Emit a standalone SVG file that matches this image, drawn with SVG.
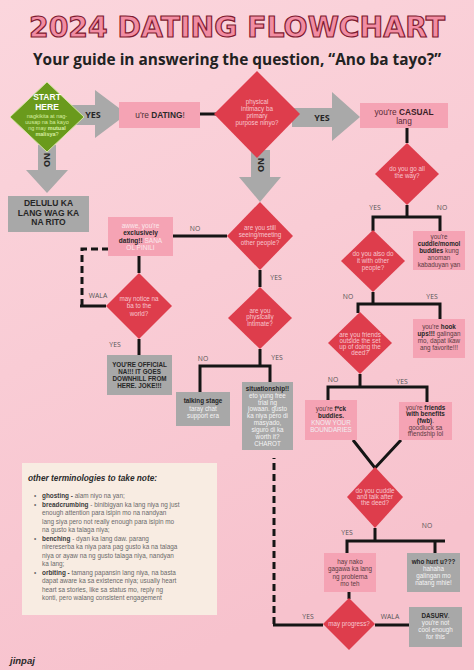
<svg xmlns="http://www.w3.org/2000/svg" width="474" height="670" viewBox="0 0 474 670">
<defs>
<linearGradient id="bg" x1="0" y1="0" x2="0.35" y2="1">
<stop offset="0" stop-color="#fbd6dd"/>
<stop offset="1" stop-color="#f7c2cd"/>
</linearGradient>
</defs>
<style>
.ln{stroke:#151515;stroke-width:3;fill:none}
.dash{stroke:#151515;stroke-width:3;fill:none;stroke-dasharray:7 4}
.arr{fill:#a9a9a9}
.dm{fill:#de3d4c}
.pk{fill:#f5a3b4}
.gy{fill:#a8a8a8}
.t{font-family:"Liberation Sans",Arial,sans-serif;text-anchor:middle}
.dt{fill:#f8c6ce;font-size:6.3px}
.pt{fill:#5a3a42;font-size:6.3px}
.gt{fill:#f4f4f4;font-size:6.3px}
.lt{fill:#fbe8ec}
.dk{fill:#262626}
.lbl{font-family:"Open Sans","Liberation Sans",sans-serif;font-size:6.8px;fill:#555;text-anchor:middle}
.big{font-family:"Open Sans","Liberation Sans",sans-serif;font-size:9px;font-weight:bold;fill:#262626;text-anchor:middle}
.b{font-weight:bold}
.term{font-family:"Liberation Sans",Arial,sans-serif;font-size:6.4px;fill:#6a6a6a}
.tb{font-weight:bold;fill:#3a3a3a}
</style>
<rect width="474" height="670" fill="url(#bg)"/>
<g id="title">
<text x="237" y="37" font-family="DejaVu Sans" font-weight="bold" font-size="29" fill="#f28ca2" stroke="#7d1a30" stroke-width="1.2" text-anchor="middle" textLength="416" lengthAdjust="spacingAndGlyphs">2024 DATING FLOWCHART</text>
<text x="237" y="65" font-family="Open Sans" font-weight="bold" font-size="16.5" fill="#222" text-anchor="middle" textLength="408" lengthAdjust="spacingAndGlyphs">Your guide in answering the question, “Ano ba tayo?”</text>
</g>
<g id="connectors">
<polygon class="arr" points="70,105 95,105 95,90 127,114 95,138 95,125 70,125"/>
<polygon class="arr" points="292,108 332,108 332,92 360,117 332,141 332,127 292,127"/>
<polygon class="arr" points="38,145 56,145 56,170 68,170 47,193 26,170 38,170"/>
<polygon class="arr" points="251,150 270,150 270,177 281,177 260,202 239,177 251,177"/>
<path class="ln" d="M200,114H216"/>
<path class="ln" d="M407,128V143"/>
<path class="ln" d="M407,205V217M373,231V217H440V231"/>
<path class="ln" d="M373,292V304M358,313V304H440V319"/>
<path class="ln" d="M360,374V387M328,400V387H427V402"/>
<path class="ln" d="M353,440L375,468L401,440"/>
<path class="ln" d="M375,528V541M347,553V541H445M435,541V553"/>
<path class="ln" d="M349,592V599"/>
<path class="ln" d="M375,625H409"/>
<path class="ln" d="M323,625H273"/>
<path class="dash" d="M274,624V458"/>
<path class="ln" d="M260,270V287"/>
<path class="ln" d="M227,236H173"/>
<path class="ln" d="M260,349V366M200,392V366H270V382"/>
<path class="ln" d="M139,256V273"/>
<path class="ln" d="M106,306H80"/>
<path class="dash" d="M82,306V249H108"/>
<path class="ln" d="M139,339V355"/>
<text x="93" y="118" class="big">YES</text>
<text x="322" y="121" class="big">YES</text>
<text class="big" font-size="8.5" transform="translate(47,160) rotate(90)" dy="3">NO</text>
<text class="big" font-size="8.5" transform="translate(261,165) rotate(90)" dy="3">NO</text>
<text class="lbl" x="195" y="231">NO</text>
<text class="lbl" x="276" y="280">YES</text>
<text class="lbl" x="98" y="298">WALA</text>
<text class="lbl" x="115" y="347">YES</text>
<text class="lbl" x="203" y="361">NO</text>
<text class="lbl" x="277" y="360">YES</text>
<text class="lbl" x="375" y="210">YES</text>
<text class="lbl" x="442" y="210">NO</text>
<text class="lbl" x="348" y="299">NO</text>
<text class="lbl" x="432" y="299">YES</text>
<text class="lbl" x="333" y="382">NO</text>
<text class="lbl" x="402" y="384">YES</text>
<text class="lbl" x="347" y="535">YES</text>
<text class="lbl" x="427" y="528">NO</text>
<text class="lbl" x="308" y="619">YES</text>
<text class="lbl" x="390" y="619">WALA</text>
</g>
<g id="start">
<polygon points="47,82 84,117 47,152 10,117" fill="#6a9a1c" stroke="#d3e4a0" stroke-width="1"/>
<text class="t b" x="47" y="100" font-size="8.5" fill="#fff">START<tspan x="47" dy="9.5">HERE</tspan></text>
<text class="t" font-size="5.5" fill="#d8efa2" x="47" y="117.5">nagkikita at nag-<tspan x="47" dy="6.2">uusap na ba kayo</tspan><tspan x="47" dy="6.2">ng may <tspan class="b">mutual</tspan></tspan><tspan x="47" dy="6.2" class="b">malisya</tspan>?</text>
</g>
<g id="delulu">
<rect class="gy" x="8" y="196" width="81" height="36"/>
<text class="t b dk" x="48.5" y="206" font-size="8.5">DELULU KA<tspan x="48.5" dy="9.5">LANG WAG KA</tspan><tspan x="48.5" dy="9.5">NA RITO</tspan></text>
</g>
<g id="dating">
<rect class="pk" x="119" y="102" width="81" height="26"/>
<text class="t" x="160" y="118" font-size="8.3" fill="#4a3035">u're <tspan class="b" fill="#2a2a2a">DATING</tspan>!</text>
</g>
<g id="physical">
<polygon class="dm" points="257,71 300,114 257,158 214,114"/>
<text class="t dt" x="257" y="104">physical<tspan x="257" dy="7.1">intimacy ba</tspan><tspan x="257" dy="7.1">primary</tspan><tspan x="257" dy="7.1">purpose ninyo?</tspan></text>
</g>
<g id="casual">
<rect class="pk" x="360" y="103" width="88" height="25"/>
<text class="t" x="404" y="115" font-size="8.3" fill="#5a2a35">you're <tspan class="b" fill="#3a2025">CASUAL</tspan><tspan x="404" dy="9.3">lang</tspan></text>
</g>
<g id="goall">
<polygon class="dm" points="407,143 439,174 407,205 375,174"/>
<text class="t dt" x="407" y="171">do you go all<tspan x="407" dy="7.1">the way?</tspan></text>
</g>
<g id="cuddlebuddies">
<rect class="pk" x="413" y="231" width="52" height="39"/>
<text class="t pt" x="439" y="239" font-size="6.1">you're<tspan x="439" dy="6.9" class="b dk">cuddle/momol</tspan><tspan x="439" dy="6.9"><tspan class="b dk">buddies</tspan> kung</tspan><tspan x="439" dy="6.9">anoman</tspan><tspan x="439" dy="6.9">kabaduyan yan</tspan></text>
</g>
<g id="alsodo">
<polygon class="dm" points="373,230 405,261 373,292 341,261"/>
<text class="t dt" x="373" y="256" font-size="6">do you also do<tspan x="373" dy="6.8">it with other</tspan><tspan x="373" dy="6.8">people?</tspan></text>
</g>
<g id="hookups">
<rect class="pk" x="413" y="319" width="52" height="39"/>
<text class="t pt" x="439" y="329">you're <tspan class="b dk">hook</tspan><tspan x="439" dy="7.1"><tspan class="b dk">ups!!!</tspan> galingan</tspan><tspan x="439" dy="7.1">mo, dapat ikaw</tspan><tspan x="439" dy="7.1">ang favorite!!!</tspan></text>
</g>
<g id="friends">
<polygon class="dm" points="360,312 392,343 360,374 328,343"/>
<text class="t dt" x="360" y="336.5" font-size="5.5">are you friends<tspan x="360" dy="6.2">outside the set</tspan><tspan x="360" dy="6.2">up of doing the</tspan><tspan x="360" dy="6.2">deed?</tspan></text>
</g>
<g id="fbuddies">
<rect class="pk" x="305" y="400" width="52" height="40"/>
<text class="t pt" x="331" y="411">you're <tspan class="b dk">f*ck</tspan><tspan x="331" dy="7.1" class="b dk">buddies.</tspan><tspan x="331" dy="7.1" fill="#f1eef3">KNOW YOUR</tspan><tspan x="331" dy="7.1" fill="#f1eef3">BOUNDARIES</tspan></text>
</g>
<g id="fwb">
<rect class="pk" x="399" y="402" width="53" height="38"/>
<text class="t pt" x="425.5" y="409.5" font-size="6">you're <tspan class="b dk">friends</tspan><tspan x="425.5" dy="6.7" class="b dk">with benefits</tspan><tspan x="425.5" dy="6.7"><tspan class="b dk">(fwb)</tspan>.</tspan><tspan x="425.5" dy="6.7">goodluck sa</tspan><tspan x="425.5" dy="6.7">friendship lol</tspan></text>
</g>
<g id="cuddle">
<polygon class="dm" points="375,467 403,497 375,528 347,497"/>
<text class="t dt" x="375" y="493" font-size="5.5">do you cuddle<tspan x="375" dy="6.2">and talk after</tspan><tspan x="375" dy="6.2">the deed?</tspan></text>
</g>
<g id="haynako">
<rect class="pk" x="324" y="553" width="52" height="39"/>
<text class="t pt" x="350" y="564" font-size="6.5">hay nako<tspan x="350" dy="7.3">gagawa ka lang</tspan><tspan x="350" dy="7.3">ng problema</tspan><tspan x="350" dy="7.3">mo teh</tspan></text>
</g>
<g id="whohurt">
<rect class="gy" x="407" y="553" width="53" height="39"/>
<text class="t gt" x="433.5" y="564"><tspan class="b dk">who hurt u???</tspan><tspan x="433.5" dy="7.1">hahaha</tspan><tspan x="433.5" dy="7.1">galingan mo</tspan><tspan x="433.5" dy="7.1">natang mhie!</tspan></text>
</g>
<g id="progress">
<polygon class="dm" points="349,598 375,624 349,650 323,624"/>
<text class="t dt" x="349" y="626" font-size="4.8">may progress?</text>
</g>
<g id="dasurv">
<rect class="gy" x="409" y="607" width="53" height="40"/>
<text class="t gt" x="435.5" y="617.5" font-size="6.5"><tspan class="b dk">DASURV</tspan><tspan class="dk">.</tspan><tspan x="435.5" dy="7.3">you're not</tspan><tspan x="435.5" dy="7.3">cool enough</tspan><tspan x="435.5" dy="7.3">for this</tspan></text>
</g>
<g id="stillseeing">
<polygon class="dm" points="260,202 293,236 260,270 227,236"/>
<text class="t dt" x="260" y="230" font-size="6.5">are you still<tspan x="260" dy="7.3">seeing/meeting</tspan><tspan x="260" dy="7.3">other people?</tspan></text>
</g>
<g id="awwe">
<rect class="pk" x="108" y="217" width="65" height="39"/>
<text class="t lt" x="140.5" y="228" font-size="6.5">awwe, you're<tspan x="140.5" dy="7.3" class="b dk">exclusively</tspan><tspan x="140.5" dy="7.3"><tspan class="b dk">dating!!</tspan> SANA</tspan><tspan x="140.5" dy="7.3">OL PINILI</tspan></text>
</g>
<g id="notice">
<polygon class="dm" points="139,273 172,306 139,339 106,306"/>
<text class="t dt" x="139" y="301" font-size="6.5">may notice na<tspan x="139" dy="7.3">ba to the</tspan><tspan x="139" dy="7.3">world?</tspan></text>
</g>
<g id="official">
<rect class="gy" x="107" y="355" width="65" height="40"/>
<text class="t b dk" x="139.5" y="366.5" font-size="6.3">YOU'RE OFFICIAL<tspan x="139.5" dy="7.1">NA!!! IT GOES</tspan><tspan x="139.5" dy="7.1">DOWNHILL FROM</tspan><tspan x="139.5" dy="7.1">HERE. JOKE!!!</tspan></text>
</g>
<g id="intimate">
<polygon class="dm" points="260,287 292,318 260,349 228,318"/>
<text class="t dt" x="260" y="313" font-size="5.6">are you<tspan x="260" dy="6.3">physically</tspan><tspan x="260" dy="6.3">intimate?</tspan></text>
</g>
<g id="talking">
<rect class="gy" x="176" y="392" width="54" height="34"/>
<text class="t gt" x="203" y="403" font-size="6.8"><tspan class="b dk">talking stage</tspan><tspan x="203" dy="7.6">taray chat</tspan><tspan x="203" dy="7.6">support era</tspan></text>
</g>
<g id="situationship">
<rect class="gy" x="242" y="382" width="51" height="68"/>
<text class="t gt" x="267.5" y="390.6" font-size="6.2"><tspan class="b dk">situationship!!</tspan><tspan x="267.5" dy="6.95">eto yung free</tspan><tspan x="267.5" dy="6.95">trial ng</tspan><tspan x="267.5" dy="6.95">jowaan. gusto</tspan><tspan x="267.5" dy="6.95">ka niya pero di</tspan><tspan x="267.5" dy="6.95">masyado,</tspan><tspan x="267.5" dy="6.95">siguro di ka</tspan><tspan x="267.5" dy="6.95">worth it?</tspan><tspan x="267.5" dy="6.95">CHAROT</tspan></text>
</g>
<g id="terminologies">
<rect x="22" y="463" width="195" height="152" fill="#f8ece2"/>
<text x="28" y="481" font-family="Liberation Sans,Arial,sans-serif" font-weight="bold" font-style="italic" font-size="8.3" fill="#2a2a2a">other terminologies to take note:</text>
<text class="term"><tspan x="34" y="498">•</tspan><tspan x="42" y="498"><tspan class="tb">ghosting -</tspan>  alam niyo na yan;</tspan><tspan x="34" y="506.5">•</tspan><tspan x="42" y="506.5"><tspan class="tb">breadcrumbing</tspan>  - binibigyan ka lang niya ng just</tspan><tspan x="42" y="515">enough attention para isipin mo na nandyan</tspan><tspan x="42" y="523.5">lang siya pero not really enough para isipin mo</tspan><tspan x="42" y="532">na gusto ka talaga niya;</tspan><tspan x="34" y="540.5">•</tspan><tspan x="42" y="540.5"><tspan class="tb">benching</tspan> - dyan ka lang daw. parang</tspan><tspan x="42" y="549">nirereserba ka niya para pag gusto ka na talaga</tspan><tspan x="42" y="557.5">niya or ayaw na ng gusto talaga niya, nandyan</tspan><tspan x="42" y="566">ka lang;</tspan><tspan x="34" y="574.5">•</tspan><tspan x="42" y="574.5"><tspan class="tb">orbiting -</tspan>  tamang papansin lang niya, na basta</tspan><tspan x="42" y="583">dapat aware ka sa existence niya; usually heart</tspan><tspan x="42" y="591.5">heart sa stories, like sa status mo, reply ng</tspan><tspan x="42" y="600">konti, pero walang consistent engagement</tspan></text>
</g>
<g id="credit">
<text x="10" y="664" font-family="Liberation Sans,Arial,sans-serif" font-weight="bold" font-style="italic" font-size="9.5" fill="#2a2a2a">jinpaj</text>
</g>
</svg>
